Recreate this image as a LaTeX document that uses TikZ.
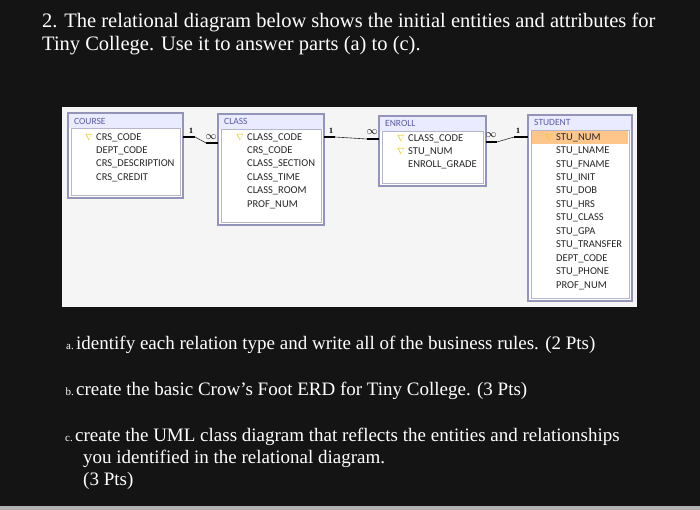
\documentclass[tikz,border=0pt]{standalone}
\usepackage{fontspec}
\setmainfont{Liberation Serif}
\newfontfamily\uifont{Carlito}
\begin{document}
\begin{tikzpicture}[x=1pt,y=-1pt,
  every node/.style={inner sep=0pt},
  tbox/.style={draw=blue!20!gray!70,line width=1.2pt,fill=white},
  hdr/.style={fill=blue!8},
  ttl/.style={anchor=west,font=\uifont\fontsize{9.5}{10}\selectfont,text=gray!70!blue},
  fld/.style={anchor=west,font=\uifont\fontsize{10.5}{11}\selectfont,text=black!85},
  key/.style={anchor=east,font=\fontsize{9}{9}\selectfont,text=yellow!60!brown,xshift=-3pt},
  rel/.style={line width=0.6pt,black!80},
  bar/.style={line width=2.2pt,black},
  card/.style={font=\bfseries\fontsize{8}{8}\selectfont},
  inf/.style={font=\bfseries\fontsize{11}{11}\selectfont},
  q/.style={anchor=west,text=white,font=\fontsize{20.5}{24}\selectfont},
  ql/.style={anchor=west,text=white,font=\fontsize{19}{22}\selectfont},
  qs/.style={anchor=base east,text=white,font=\fontsize{11}{12}\selectfont}]
\fill[black!92] (0,0) rectangle (700,510);
\useasboundingbox (0,0) rectangle (700,510);
\node[q] (t1) at (42,22) {2. The relational diagram below shows the initial entities and attributes for};
\node[q] (t2) at (42,46) {Tiny College. Use it to answer parts (a) to (c).};
\fill[gray!8] (62,107) rectangle (637,307);
% tables
\newcommand{\tbl}[5]{% name x1 y1 x2 y2
  \draw[tbox] (#2,#3) rectangle (#4,#5);
  \fill[hdr] ([shift={(1,1)}]#2,#3) rectangle ([shift={(-1,0)}]#4,#3+15);
  \draw[blue!15!gray!50,line width=0.5pt] ([shift={(3,15)}]#2,#3) rectangle ([shift={(-3,-3)}]#4,#5);
}
\tbl{COURSE}{68}{113}{183}{198}
\tbl{CLASS}{218}{114}{324}{225}
\tbl{ENROLL}{379}{116}{486}{186}
\tbl{STUDENT}{528}{115}{632}{301}
\node[ttl] (tc) at (74,121) {COURSE};
\node[ttl] (tcl) at (224,121) {CLASS};
\node[ttl] (te) at (385,123) {ENROLL};
\node[ttl] (ts) at (534,122) {STUDENT};
\fill[orange!45] (532,131) rectangle (628,144);
% fields
\foreach \t [count=\i] in {CRS\_CODE,DEPT\_CODE,CRS\_DESCRIPTION,CRS\_CREDIT}
  \node[fld] (c\i) at (96,124+13.4*\i) {\t};
\foreach \t [count=\i] in {CLASS\_CODE,CRS\_CODE,CLASS\_SECTION,CLASS\_TIME,CLASS\_ROOM,PROF\_NUM}
  \node[fld] (k\i) at (247,124+13.4*\i) {\t};
\foreach \t [count=\i] in {CLASS\_CODE,STU\_NUM,ENROLL\_GRADE}
  \node[fld] (e\i) at (408,125+13.4*\i) {\t};
\foreach \t [count=\i] in {STU\_NUM,STU\_LNAME,STU\_FNAME,STU\_INIT,STU\_DOB,STU\_HRS,STU\_CLASS,STU\_GPA,STU\_TRANSFER,DEPT\_CODE,STU\_PHONE,PROF\_NUM}
  \node[fld] (s\i) at (556,124+13.45*\i) {\t};
\node[key] (kc) at (c1.west) {$\nabla$};
\node[key] (kk) at (k1.west) {$\nabla$};
\node[key] (ke1) at (e1.west) {$\nabla$};
\node[key] (ke2) at (e2.west) {$\nabla$};
\node[key] (ks) at (s1.west) {$\nabla$};
% relationships
\coordinate (a1) at (183,137); \coordinate (a2) at (195,137);
\coordinate (a3) at (206,143); \coordinate (a4) at (218,143);
\draw[bar] (a1)--(a2); \draw[bar] (a3)--(a4); \draw[rel] (a2)--(a3);
\node[card] (n1) at (191,131) {1}; \node[inf] (m1) at (211,137) {$\infty$};
\coordinate (b1) at (324,137); \coordinate (b2) at (335,137);
\coordinate (b3) at (367,139); \coordinate (b4) at (379,139);
\draw[bar] (b1)--(b2); \draw[bar] (b3)--(b4); \draw[rel] (b2)--(b3);
\node[card] (n2) at (331,131) {1}; \node[inf] (m2) at (372,132) {$\infty$};
\coordinate (d1) at (486,142); \coordinate (d2) at (497,142);
\coordinate (d3) at (514,137); \coordinate (d4) at (528,137);
\draw[bar] (d1)--(d2); \draw[bar] (d3)--(d4); \draw[rel] (d2)--(d3);
\node[card] (n3) at (518,131) {1}; \node[inf] (m3) at (491,135) {$\infty$};
% questions
\node[qs] (la) at (74,349) {a.};
\node[ql,anchor=base west] (qa) at (76,349) {identify each relation type and write all of the business rules. (2 Pts)};
\node[qs] (lb) at (74,395) {b.};
\node[ql,anchor=base west] (qb) at (76,395) {create the basic Crow’s Foot ERD for Tiny College. (3 Pts)};
\node[qs] (lc) at (73,441) {c.};
\node[ql,anchor=base west] (qc) at (75,441) {create the UML class diagram that reflects the entities and relationships};
\node[ql,anchor=base west] (qc2) at (83,463) {you identified in the relational diagram.};
\node[ql,anchor=base west] (qc3) at (83,485) {(3 Pts)};
\fill[gray!60] (0,506) rectangle (700,510);
\end{tikzpicture}
\end{document}
